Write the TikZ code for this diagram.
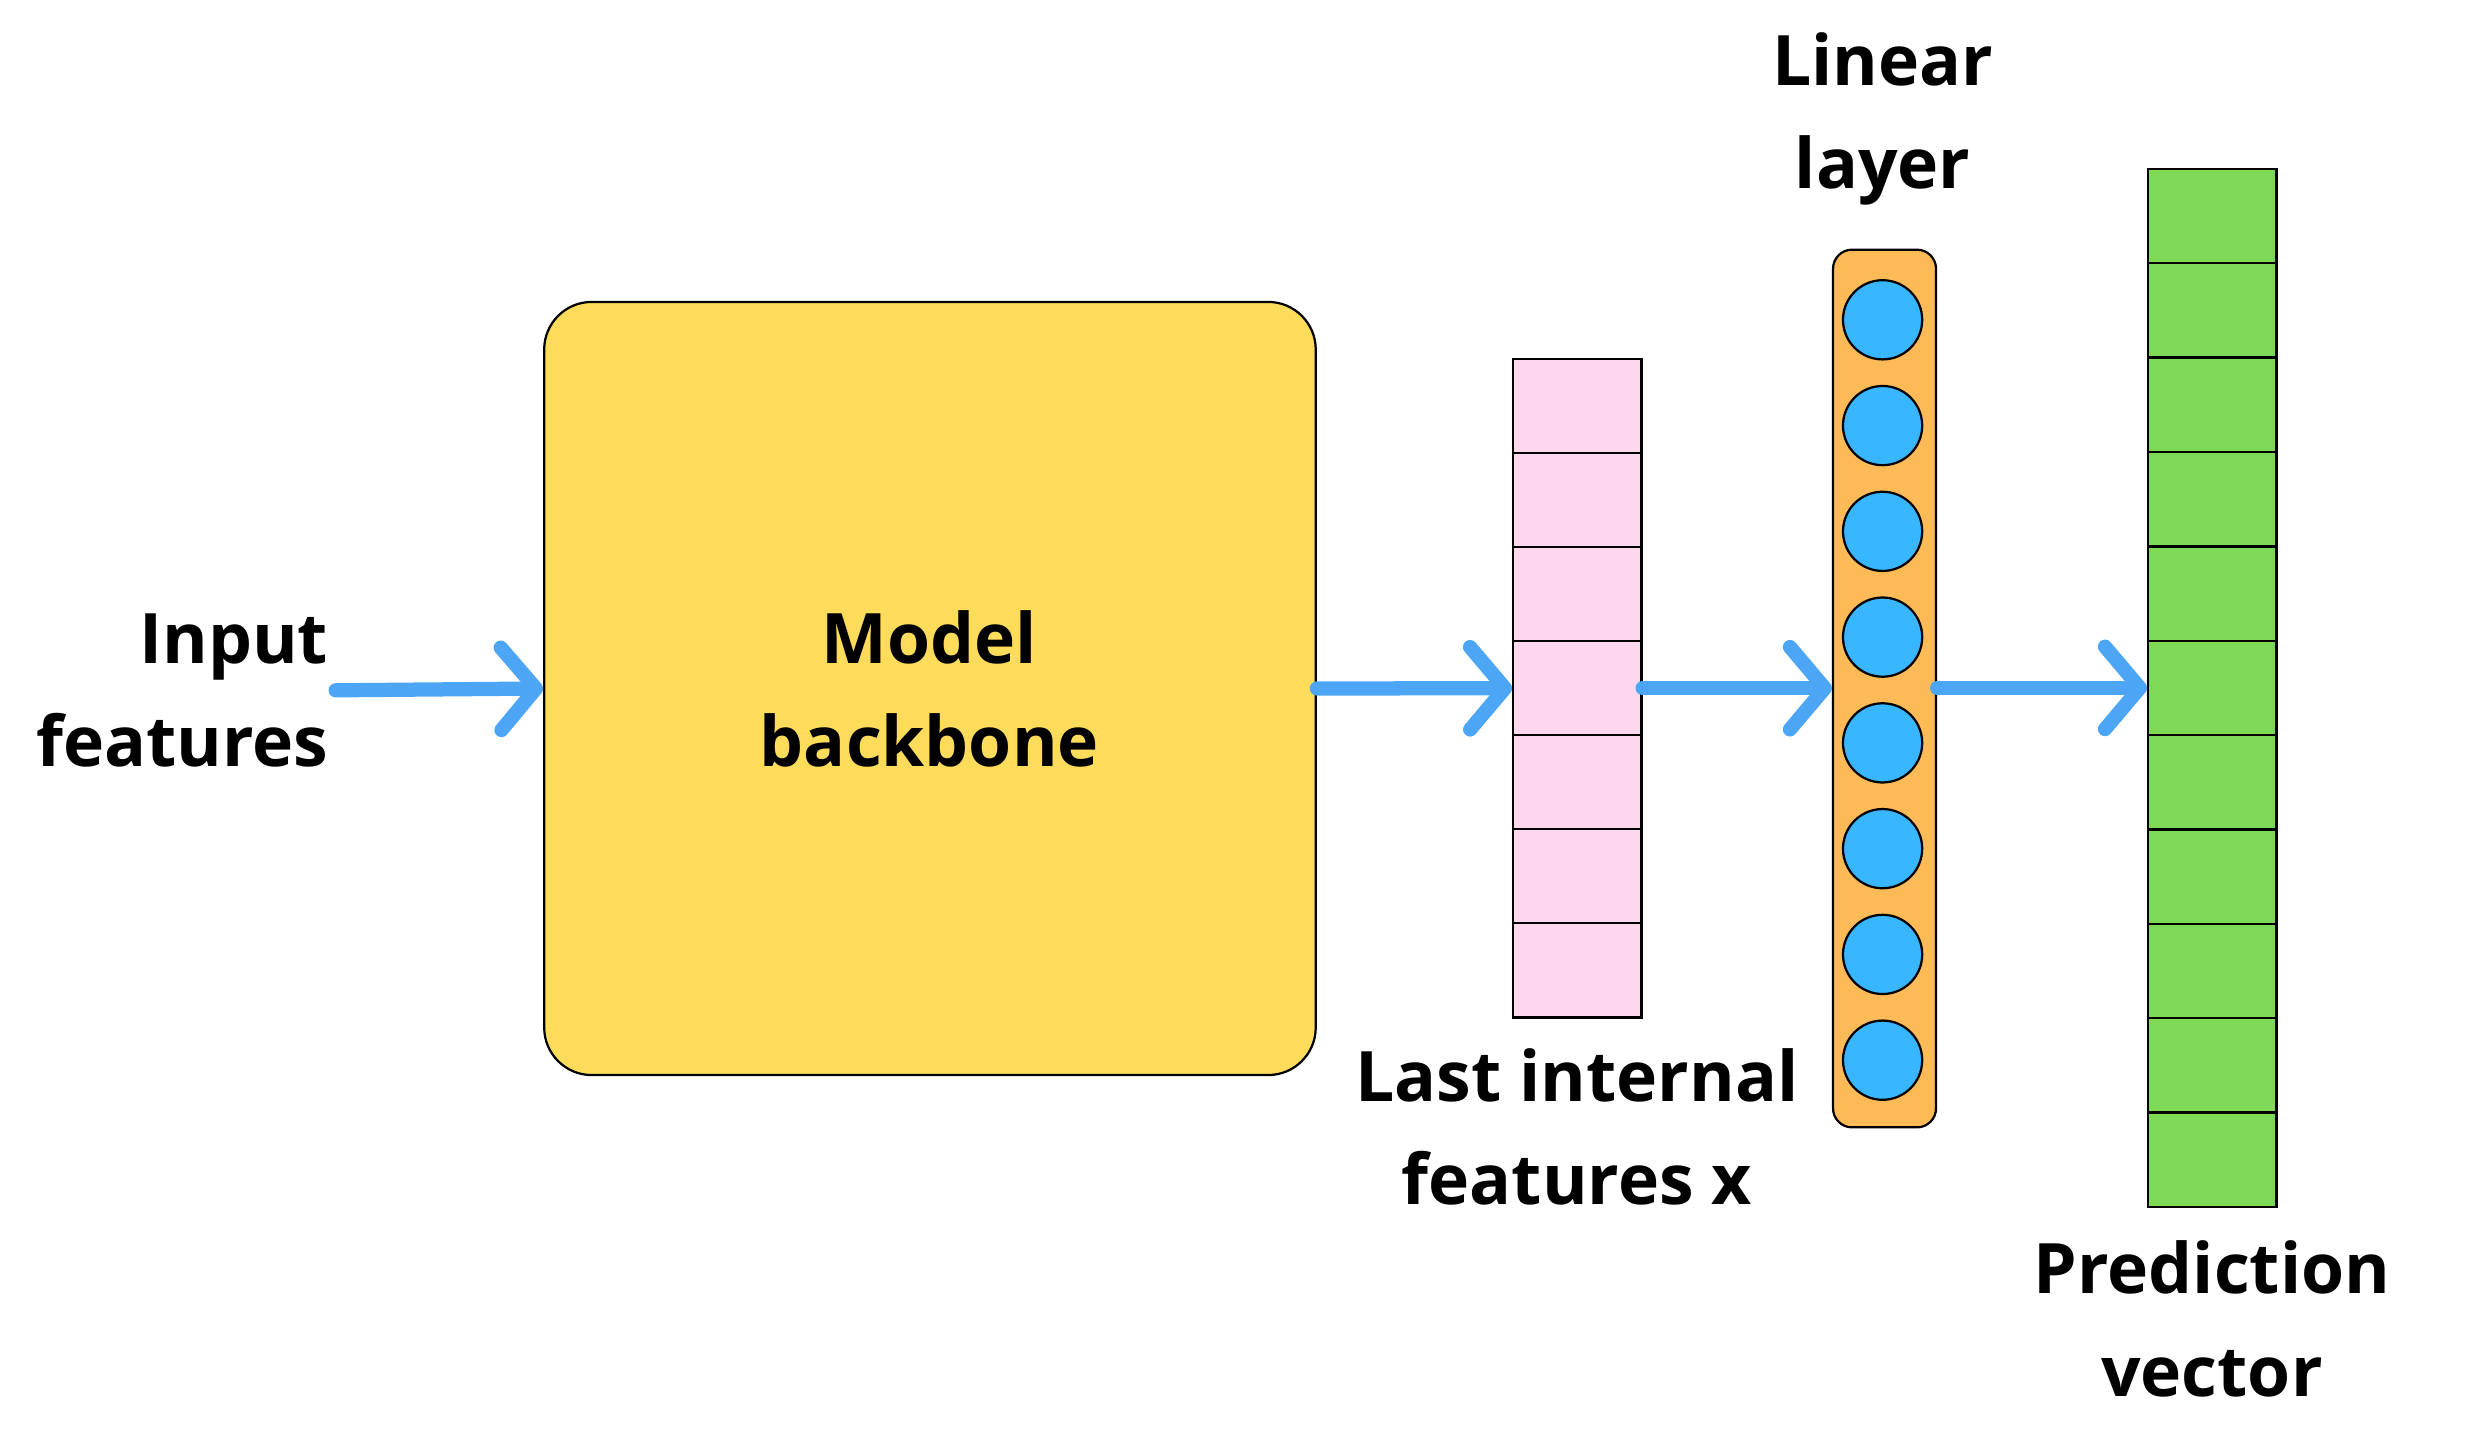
\documentclass[tikz,border=0pt]{standalone}
\usepackage{fontspec}
\setmainfont{Open Sans}
\usetikzlibrary{arrows.meta}
\definecolor{boxyellow}{HTML}{FDDC5C}
\definecolor{cellpink}{HTML}{FDD7EE}
\definecolor{barorange}{HTML}{FDBA57}
\definecolor{neuron}{HTML}{38B6FF}
\definecolor{cellgreen}{HTML}{7ED957}
\definecolor{flow}{HTML}{4DA6F5}
\begin{document}
\begin{tikzpicture}[x=0.01cm,y=-0.01cm,
    lbl/.style={font=\bfseries\fontsize{12.5}{18.5}\selectfont, align=center, inner sep=0pt},
    flowarrow/.style={draw=flow, line width=0.09cm, line cap=round,
        -{Straight Barb[length=2.2mm,width=5.2mm,round]}},
    cell/.style={draw, thin, minimum width=0.81cm, minimum height=0.595cm, inner sep=0pt, anchor=north west},
    neur/.style={circle, draw, thin, fill=neuron, minimum size=0.5cm, inner sep=0pt}
]
\useasboundingbox (0,0) rectangle (1560,904);

% backbone
\node[draw, thin, fill=boxyellow, rounded corners=0.3cm, minimum width=4.87cm, minimum height=4.88cm, anchor=north west] (backbone) at (343,190) {};
\node[lbl] at (587,435) {Model\\backbone};

% input
\node[lbl, align=right, anchor=east] (input) at (208,436) {Input\\features};
\coordinate (instart) at (212,436);
\draw[flowarrow] (instart) -- (backbone.west);

% last internal features
\foreach \i in {0,...,6}
  \node[cell, fill=cellpink] (p\i) at (955,{226+\i*59.4}) {};
\node[lbl] at (996,712) {Last internal\\features x};
\draw[flowarrow] (backbone.east) -- (p3.west);

% linear layer
\node[draw, thin, fill=barorange, rounded corners=0.12cm, minimum width=0.65cm, minimum height=5.54cm, anchor=north west] (linear) at (1157,157) {};
\foreach \i in {0,...,7}
  \node[neur] (n\i) at (1189,{202+\i*66.8}) {};
\node[lbl] at (1189,75) {Linear\\layer};
\draw[flowarrow] (p3.east) -- (linear.west |- p3.east);

% prediction vector
\foreach \i in {0,...,10}
  \node[cell, fill=cellgreen] (g\i) at (1356,{106+\i*59.6}) {};
\node[lbl] at (1397,833) {Prediction\\vector};
\draw[flowarrow] (linear.east |- g5.west) -- (g5.west);
\end{tikzpicture}
\end{document}
